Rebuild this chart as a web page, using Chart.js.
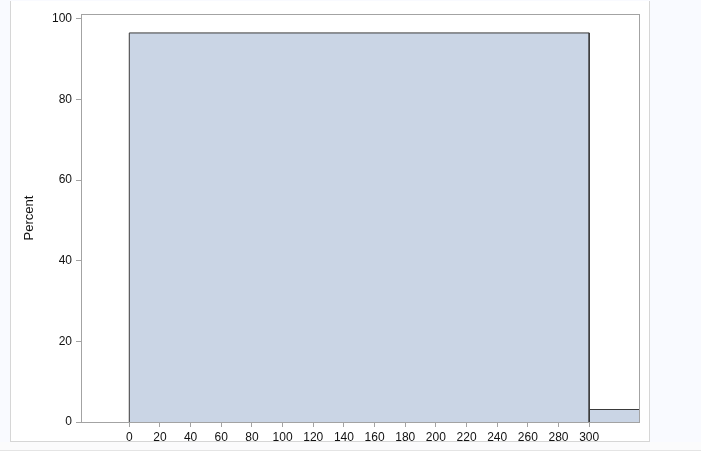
<!DOCTYPE html>
<html>
<head>
<meta charset="utf-8">
<script src="https://cdn.jsdelivr.net/npm/chart.js@4"></script>
<style>
  html, body { margin: 0; padding: 0; width: 701px; height: 454px; overflow: hidden; background: #f9faff; }
  .panel { position: absolute; left: 10px; top: 1px; width: 638px; height: 440px; background: #fff; border: 1px solid #d6d6d6; border-top: 0; }
  .strip { position: absolute; left: 0; top: 442px; width: 701px; height: 8px; background: #fbfbfc; border-bottom: 1px solid #e4e4e4; }
  .below { position: absolute; left: 0; top: 451px; width: 701px; height: 3px; background: #fff; }
  #histChart { position: absolute; left: 0; top: 0; }
</style>
</head>
<body>
<div class="panel"></div>
<div class="strip"></div>
<div class="below"></div>
<canvas id="histChart" width="701" height="454"></canvas>

<script>
  // histogram bins (edges) and the percent in each bin
  const binEdges = [0, 300, 600];
  const binPercents = [96.5, 3.1];
  const xTicks = [0, 20, 40, 60, 80, 100, 120, 140, 160, 180, 200, 220, 240, 260, 280, 300];
  const yTicks = [0, 20, 40, 60, 80, 100];

  // one closed outline per bin, filled down to zero
  const datasets = binPercents.map((p, i) => {
    const lo = binEdges[i];
    const hi = binEdges[i + 1];
    return {
      data: [{x: lo, y: 0}, {x: lo, y: p}, {x: hi, y: p}, {x: hi, y: 0}],
      fill: 'origin',
      backgroundColor: '#cad5e5',
      borderColor: '#3a3a3a',
      borderWidth: 1,
      pointRadius: 0,
      tension: 0,
      clip: 0
    };
  });

  // gray frame round the plot area (top and right sides)
  const framePlugin = {
    id: 'frame',
    afterDraw(chart) {
      const {ctx, chartArea: a} = chart;
      ctx.save();
      ctx.strokeStyle = '#a3a3a3';
      ctx.lineWidth = 1;
      ctx.strokeRect(Math.round(a.left) + 0.5, Math.round(a.top) + 0.5,
        Math.round(a.right - a.left), Math.round(a.bottom - a.top));
      ctx.restore();
    }
  };

  new Chart('histChart', {
    type: 'line',
    data: {datasets: datasets},
    plugins: [framePlugin],
    options: {
      responsive: false,
      animation: false,
      layout: {padding: {top: 14, right: 62, left: 0, bottom: 0}},
      plugins: {
        legend: {display: false},
        tooltip: {enabled: false}
      },
      scales: {
        x: {
          type: 'linear',
          min: -31.5,
          max: 332.5,
          afterBuildTicks(scale) {
            scale.ticks = xTicks.map(v => ({value: v}));
          },
          afterFit(scale) { scale.height = 32; },
          grid: {drawOnChartArea: false, tickLength: 5, tickColor: '#a3a3a3'},
          border: {color: '#a3a3a3'},
          ticks: {
            color: '#111',
            padding: 3,
            maxRotation: 0,
            autoSkip: false,
            font: {family: 'Liberation Sans', size: 12}
          }
        },
        y: {
          min: 0,
          max: 101.2,
          afterBuildTicks(scale) {
            scale.ticks = yTicks.map(v => ({value: v}));
          },
          afterFit(scale) { scale.width = 81; },
          grid: {drawOnChartArea: false, tickLength: 5, tickColor: '#a3a3a3'},
          border: {color: '#a3a3a3'},
          ticks: {
            color: '#111',
            padding: 4,
            font: {family: 'Liberation Sans', size: 12}
          },
          title: {
            display: true,
            text: 'Percent',
            color: '#111',
            padding: {top: 22, bottom: 0},
            font: {family: 'Liberation Sans', size: 13}
          }
        }
      }
    }
  });
</script>
</body>
</html>
